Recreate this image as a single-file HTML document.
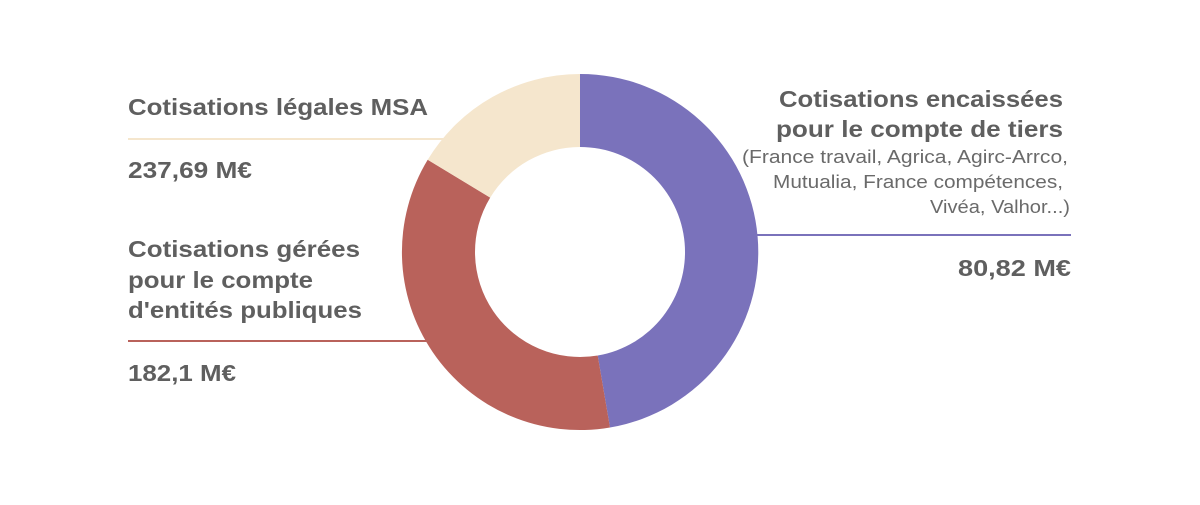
<!DOCTYPE html>
<html><head><meta charset="utf-8"><style>html,body{margin:0;padding:0;background:#fff;}svg{display:block}</style></head>
<body>
<svg width="1200" height="505" viewBox="0 0 1200 505" xmlns="http://www.w3.org/2000/svg" font-family="Liberation Sans, Arial, sans-serif">
<path d="M580,74 A178,178 0 0 1 610,427.5 L597.7,355.5 A105,105 0 0 0 580,147 Z" fill="#7a72bb"/>
<path d="M610,427.5 A178,178 0 0 1 427.7,159.8 L490.2,197.6 A105,105 0 0 0 597.7,355.5 Z" fill="#b9625b"/>
<path d="M427.7,159.8 A178,178 0 0 1 580,74 L580,147 A105,105 0 0 0 490.2,197.6 Z" fill="#f5e6cd"/>
<line x1="128" y1="139" x2="445" y2="139" stroke="#f5e6cd" stroke-width="2"/>
<line x1="128" y1="341" x2="428" y2="341" stroke="#b9625b" stroke-width="2"/>
<line x1="755" y1="235" x2="1071" y2="235" stroke="#7a72bb" stroke-width="2"/>
<g fill="#5f5f5f" font-weight="bold" font-size="23" lengthAdjust="spacingAndGlyphs">
<text x="128" y="115" textLength="300" lengthAdjust="spacingAndGlyphs">Cotisations légales MSA</text>
<text x="128" y="178" textLength="124" lengthAdjust="spacingAndGlyphs">237,69 M€</text>
<text x="128" y="257" textLength="232" lengthAdjust="spacingAndGlyphs">Cotisations gérées</text>
<text x="128" y="288" textLength="185" lengthAdjust="spacingAndGlyphs">pour le compte</text>
<text x="128" y="318" textLength="234" lengthAdjust="spacingAndGlyphs">d'entités publiques</text>
<text x="128" y="381" textLength="108" lengthAdjust="spacingAndGlyphs">182,1 M€</text>
<text x="779" y="107" textLength="284" lengthAdjust="spacingAndGlyphs">Cotisations encaissées</text>
<text x="776" y="137" textLength="287" lengthAdjust="spacingAndGlyphs">pour le compte de tiers</text>
<text x="958" y="276" textLength="113" lengthAdjust="spacingAndGlyphs">80,82 M€</text>
</g>
<g fill="#6a6a6a" font-size="18">
<text x="742" y="163" textLength="326" lengthAdjust="spacingAndGlyphs">(France travail, Agrica, Agirc-Arrco,</text>
<text x="773" y="188" textLength="290" lengthAdjust="spacingAndGlyphs">Mutualia, France compétences,</text>
<text x="930" y="213" textLength="140" lengthAdjust="spacingAndGlyphs">Vivéa, Valhor...)</text>
</g>
</svg>
</body></html>
